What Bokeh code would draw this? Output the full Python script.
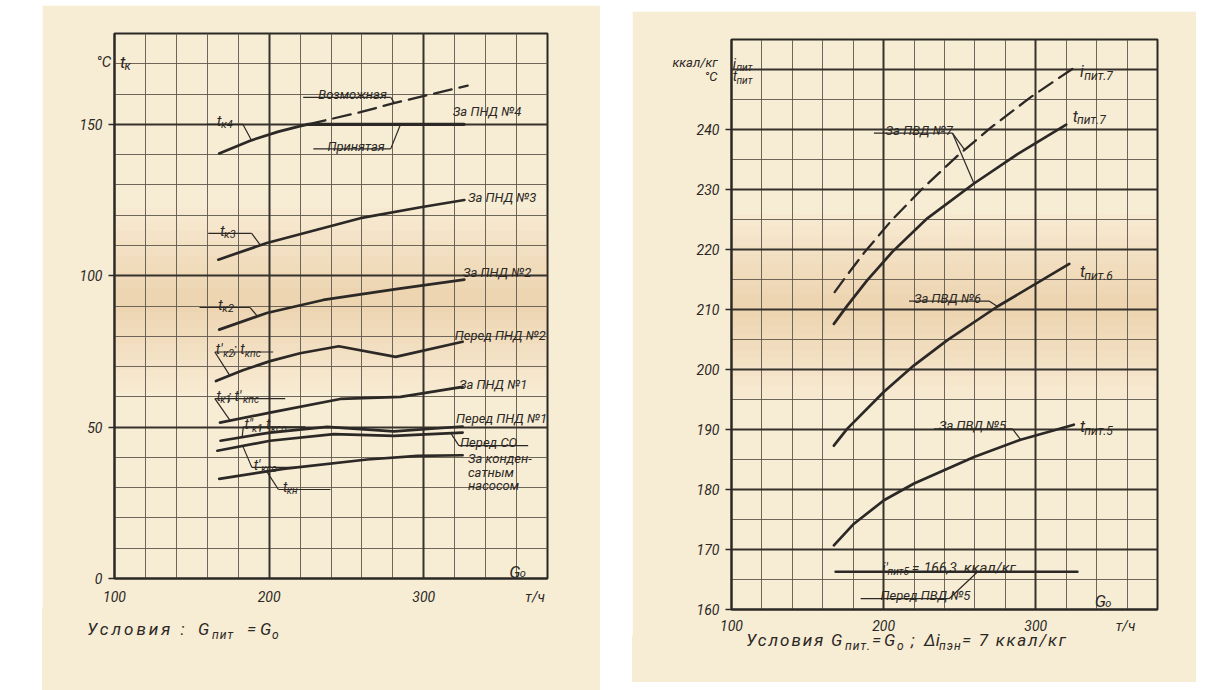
from bokeh.plotting import figure
from bokeh.models import Range1d, FixedTicker, Grid, Label, Spacer, Div, BoxAnnotation
from bokeh.layouts import row, column
from bokeh.embed import file_html
from bokeh.resources import INLINE

# ---------------- data: left panel (condensate temperature t_k, °C, vs G0, t/h)
G_k4 = [167.7, 187.7, 206.0, 220.0, 225.0]
t_k4 = [140.4, 144.6, 147.6, 149.4, 150.0]
G_k4_acc = [225.0, 326.0]
t_k4_acc = [150.0, 150.0]
G_k4_pos = [225.0, 259.0, 280.7, 328.4]
t_k4_pos = [150.0, 154.0, 157.0, 162.8]
G_k3 = [167.1, 198.5, 259.0, 298.0, 326.2]
t_k3 = [105.3, 110.8, 119.0, 122.6, 125.0]
G_k2 = [167.7, 198.5, 235.0, 282.0, 326.2]
t_k2 = [82.2, 87.7, 92.0, 95.6, 98.7]
G_pnd2 = [165.6, 183.0, 200.6, 220.0, 245.0, 281.8, 325.1]
t_pnd2 = [65.2, 68.8, 71.8, 74.4, 76.7, 73.2, 78.2]
G_k1 = [168.2, 200.6, 246.0, 285.0, 325.1]
t_k1 = [51.5, 54.8, 59.3, 60.0, 63.3]
G_pnd1 = [168.6, 200.6, 237.5, 280.7, 325.1]
t_pnd1 = [45.5, 48.2, 50.1, 48.6, 50.2]
G_co = [166.5, 200.6, 241.8, 280.7, 325.1]
t_co = [42.2, 45.5, 47.7, 47.1, 48.2]
G_kn = [167.7, 209.3, 263.4, 296.0, 325.1]
t_kn = [32.9, 36.2, 39.3, 40.5, 40.7]
left_yticks = [0, 50, 100, 150]
left_xticks = [100, 200, 300, 372]
left_xlabels = {372: "т/ч"}

# ---------------- data: right panel (feed water i, kcal/kg and t, °C)
G_i7 = [167.8, 175.0, 187.0, 205.7, 226.5, 248.5, 270.4, 296.7, 327.5]
i_7 = [212.9, 215.4, 219.4, 225.0, 230.4, 235.6, 240.3, 245.4, 250.7]
G_t7 = [167.3, 176.0, 189.0, 205.7, 228.7, 259.4, 288.0, 320.0]
t_7 = [207.6, 210.6, 214.8, 219.6, 225.2, 231.0, 235.9, 240.8]
G_t6 = [167.3, 176.0, 200.2, 220.0, 241.9, 274.8, 322.0]
t_6 = [187.3, 190.1, 196.3, 200.7, 204.9, 210.5, 217.6]
G_t5 = [167.3, 180.5, 200.2, 220.0, 259.4, 290.0, 325.0]
t_5 = [170.7, 174.3, 178.2, 181.0, 185.4, 188.3, 190.8]
G_i5 = [168.4, 327.4]
i_5 = [166.3, 166.3]
right_yticks = [160, 170, 180, 190, 200, 210, 220, 230, 240]
right_xticks = [100, 200, 300, 359]
right_xlabels = {359: "т/ч"}

FONT = "Roboto"
INK = "#2b2825"
PAPER = "#f7ecd4"
TINT = "#efb07f"
GRID_THIN = "#5f584e"
GRID_THICK = "#36322d"


def est_w(s, fs):
    w = 0.0
    for ch in s:
        if ch == " ":
            w += 0.25
        elif ch in "itlfj.,;:′″'1|":
            w += 0.27
        elif ch in "ШЩЖМмшщжю№":
            w += 0.8
        elif ch.isupper():
            w += 0.62
        else:
            w += 0.52
    return w * fs


def mklabel(x, y, txt, fs, dx=0.0, dy=0.0, align="left"):
    return Label(x=x, y=y, x_offset=dx, y_offset=dy, text=txt, text_font=FONT,
                 text_font_size=f"{fs}px", text_font_style="italic",
                 text_color=INK, text_baseline="alphabetic", text_align=align)


def rich(p, x, y, segs, size=14, sub=10, align="left", subdy=-4):
    total = sum(est_w(t, sub if s else size) for t, s in segs)
    off = 0.0
    if align == "right":
        off = -total
    elif align == "center":
        off = -total / 2
    for txt, is_sub in segs:
        fs = sub if is_sub else size
        p.add_layout(mklabel(x, y, txt, fs, dx=off, dy=(subdy if is_sub else 0)))
        off += est_w(txt, fs)


def make_fig(w, h, xr, yr, xticks, xlabels, yticks, ygrid_thin, ygrid_thick, mb, xstand):
    p = figure(width=w, height=h, x_range=Range1d(*xr), y_range=Range1d(*yr),
               output_backend="svg", toolbar_location=None, title=None,
               min_border_left=mb[0], min_border_right=mb[1],
               min_border_top=mb[2], min_border_bottom=mb[3],
               background_fill_color=PAPER, border_fill_color=PAPER)
    p.outline_line_color = INK
    p.outline_line_width = 2
    p.xgrid.ticker = FixedTicker(ticks=list(range(100, 381, 20)))
    p.ygrid.ticker = FixedTicker(ticks=ygrid_thin)
    for g in (p.xgrid, p.ygrid):
        g.grid_line_color = GRID_THIN
        g.grid_line_width = 1
        g.grid_line_alpha = 0.9
    p.add_layout(Grid(dimension=0, ticker=FixedTicker(ticks=[200, 300]),
                      grid_line_color=GRID_THICK, grid_line_width=2))
    p.add_layout(Grid(dimension=1, ticker=FixedTicker(ticks=ygrid_thick),
                      grid_line_color=GRID_THICK, grid_line_width=2))
    p.xaxis.ticker = FixedTicker(ticks=xticks)
    p.xaxis.major_label_overrides = xlabels
    p.yaxis.ticker = FixedTicker(ticks=yticks)
    for ax in (p.xaxis, p.yaxis):
        ax.axis_line_color = INK
        ax.axis_line_width = 2
        ax.major_tick_line_color = INK
        ax.major_tick_line_width = 1.5
        ax.major_tick_in = 0
        ax.minor_tick_line_color = None
        ax.major_label_text_font = FONT
        ax.major_label_text_font_style = "italic"
        ax.major_label_text_font_size = "14px"
        ax.major_label_text_color = INK
    p.xaxis.major_tick_out = 0
    p.yaxis.major_tick_out = 6
    p.xaxis.major_label_standoff = xstand
    p.yaxis.major_label_standoff = 6
    return p


def tint(p, mid, half_steps):
    # soft peach band of the scanned paper, built from nested translucent boxes
    for h in half_steps:
        p.add_layout(BoxAnnotation(left=100, right=380, bottom=mid - h, top=mid + h,
                                   fill_color=TINT, fill_alpha=0.035,
                                   line_color=None, level="image"))


def curve(p, xs, ys, dash="solid", width=2.7):
    p.line(xs, ys, line_color=INK, line_width=width, line_dash=dash,
           line_cap="round", line_join="round")


def callout(p, segs_xy):
    for x0, y0, x1, y1 in segs_xy:
        p.line([x0, x1], [y0, y1], line_color=INK, line_width=1.2)


TOP, BOT = 28, 27
STEPS_PX = [12, 20, 28, 36, 44, 52, 60, 70, 80, 92]

# ================= left panel
L = make_fig(558, TOP + 547 + BOT, (100, 380), (0, 180), left_xticks, left_xlabels,
             left_yticks, list(range(0, 181, 10)), [50, 100, 150], (72, 53, TOP, BOT), 10)
tint(L, 92.0, [s / 3.04 for s in STEPS_PX])

curve(L, G_k4, t_k4)
curve(L, G_k4_acc, t_k4_acc, width=3.3)
curve(L, G_k4_pos, t_k4_pos, dash="18 8", width=2.3)
curve(L, G_k3, t_k3)
curve(L, G_k2, t_k2)
curve(L, G_pnd2, t_pnd2)
curve(L, G_k1, t_k1)
curve(L, G_pnd1, t_pnd1)
curve(L, G_co, t_co)
curve(L, G_kn, t_kn)

# callouts: underline + leader (annotation geometry)
callout(L, [
    (159.7, 150.0, 183.0, 150.0), (183.0, 150.0, 188.8, 144.5),
    (160.6, 114.0, 188.7, 114.0), (188.7, 114.0, 194.2, 110.2),
    (155.0, 89.5, 187.7, 89.5), (187.7, 89.5, 192.5, 86.6),
    (164.9, 74.8, 202.6, 74.8), (164.9, 74.8, 174.7, 66.9),
    (164.9, 59.4, 210.4, 59.4), (164.9, 59.4, 174.7, 52.2),
    (183.3, 50.1, 223.4, 50.1), (183.3, 50.1, 182.5, 46.6),
    (188.8, 36.7, 220.0, 36.7), (188.8, 36.7, 182.9, 43.8),
    (206.0, 29.4, 239.6, 29.4), (206.0, 29.4, 198.5, 35.3),
    (222.0, 158.9, 278.6, 158.9), (278.6, 158.9, 281.0, 157.1),
    (228.6, 141.9, 278.6, 141.9), (278.6, 141.9, 285.0, 150.0),
    (322.7, 43.9, 367.5, 43.9), (322.7, 43.9, 317.5, 48.0),
])

rich(L, 166.2, 151.2, [("t", 0), ("к4", 1)], size=15, sub=11)
rich(L, 168.2, 114.9, [("t", 0), ("к3", 1)], size=15, sub=11)
rich(L, 167.0, 90.4, [("t", 0), ("к2", 1)], size=15, sub=11)
rich(L, 165.5, 75.7, [("t′", 0), ("к2", 1), ("; t", 0), ("кпс", 1)])
rich(L, 166.0, 60.3, [("t", 0), ("к1", 1), ("; t′", 0), ("кпс", 1)])
rich(L, 184.0, 51.0, [("t″", 0), ("к1", 1), (", t", 0), ("ксо", 1)])
rich(L, 190.0, 37.6, [("t′", 0), ("ксо", 1)])
rich(L, 209.0, 30.3, [("t", 0), ("кн", 1)])
rich(L, 231.8, 159.8, [("Возможная", 0)], size=13)
rich(L, 237.7, 142.8, [("Принятая", 0)], size=13)
rich(L, 318.8, 154.3, [("За ПНД №4", 0)], size=13)
rich(L, 328.6, 126.0, [("За ПНД №3", 0)], size=13)
rich(L, 325.3, 101.0, [("За ПНД №2", 0)], size=13)
rich(L, 320.0, 80.4, [("Перед ПНД №2", 0)], size=13)
rich(L, 322.7, 64.2, [("За ПНД №1", 0)], size=13)
rich(L, 320.8, 53.0, [("Перед ПНД №1", 0)], size=13)
rich(L, 323.5, 44.8, [("Перед СО", 0)], size=13)
rich(L, 328.6, 39.5, [("За конден-", 0)], size=13)
rich(L, 328.6, 34.9, [("сатным", 0)], size=13)
rich(L, 328.6, 30.6, [("насосом", 0)], size=13)
rich(L, 103.5, 170.7, [("t", 0), ("к", 1)], size=17, sub=12)
rich(L, 355.2, 2.3, [("G", 0), ("о", 1)], size=17, sub=11, subdy=-2)
# outside the frame: in a side panel so that it is not clipped
L.add_layout(mklabel(97.8, 170.7, "°C", 15, align="right"), "above")

# ================= right panel
R = make_fig(564, TOP + 570 + BOT, (100, 380), (160, 255), right_xticks, right_xlabels,
             right_yticks, list(range(160, 256, 5)), list(range(160, 251, 10)),
             (99, 39, TOP, BOT), 8)
tint(R, 210.5, [s / 6.0 for s in STEPS_PX])

curve(R, G_i7, i_7, dash="16 8", width=2.3)
curve(R, G_t7, t_7)
curve(R, G_t6, t_6)
curve(R, G_t5, t_5)
curve(R, G_i5, i_5, width=2.4)

callout(R, [
    (193.6, 239.4, 245.2, 239.4), (245.2, 239.4, 253.3, 236.6), (245.2, 239.4, 259.4, 231.0),
    (216.7, 211.4, 269.3, 211.4), (269.3, 211.4, 274.8, 210.5),
    (233.1, 190.1, 284.7, 190.1), (284.7, 190.1, 290.0, 188.3),
    (184.9, 161.8, 243.0, 161.8), (243.0, 161.8, 261.8, 166.3),
])

rich(R, 100.8, 251.0, [("i", 0), ("пит", 1)], size=14, sub=10)
rich(R, 100.8, 248.9, [("t", 0), ("пит", 1)], size=14, sub=10)
rich(R, 329.0, 249.6, [("i", 0), ("пит.7", 1)], size=16, sub=12)
rich(R, 324.3, 242.2, [("t", 0), ("пит.7", 1)], size=16, sub=12)
rich(R, 329.0, 216.3, [("t", 0), ("пит.6", 1)], size=16, sub=12)
rich(R, 329.0, 190.5, [("t", 0), ("пит.5", 1)], size=16, sub=12)
rich(R, 201.3, 239.9, [("За ПВД №7", 0)], size=13)
rich(R, 219.9, 211.9, [("За  ПВД №6", 0)], size=13)
rich(R, 236.4, 190.6, [("За  ПВД №5", 0)], size=13)
rich(R, 198.0, 162.3, [("Перед  ПВД №5", 0)], size=13)
rich(R, 199.1, 167.0, [("i′", 0)], size=14)
rich(R, 202.6, 167.0, [("пит5", 1)], size=14, sub=10)
rich(R, 218.5, 167.0, [("=", 0)], size=14)
rich(R, 226.3, 167.0, [("166,3", 0)], size=14)
rich(R, 252.6, 167.0, [("ккал/кг", 0)], size=15)
rich(R, 338.8, 161.4, [("G", 0), ("о", 1)], size=17, sub=11, subdy=-2)
R.add_layout(mklabel(90.8, 251.2, "ккал/кг", 13, align="right"), "left")
R.add_layout(mklabel(90.8, 248.9, "°C", 13, align="right"), "above")

# ---- footnotes under the panels (HTML, with real subscripts)
BASE = "position:absolute; font-family:Roboto; font-style:italic; color:%s; white-space:nowrap;" % INK


def piece(x, top, txt, fs=17, ls=0.0):
    return ('<span style="%s left:%dpx; top:%dpx; font-size:%dpx; line-height:%dpx; '
            'letter-spacing:%.1fpx;">%s</span>') % (BASE, x, top, fs, fs, ls, txt)


def foot(pieces, w, h):
    html = '<div style="position:relative; width:%dpx; height:%dpx;">%s</div>' % (w, h, "".join(pieces))
    return Div(text=html, width=w, height=h,
               styles={"background-color": PAPER, "overflow": "visible", "margin": "0"})


hL = 690 - 5 - (TOP + 547 + BOT)
div_L = foot([piece(45, 14, "Условия :", 17, 3.0),
              piece(156, 14, "G"), piece(170, 22, "пит", 12, 1.0),
              piece(205, 14, "="), piece(218, 14, "G"), piece(230, 22, "о", 12)],
             558, hL)
hR = 682 - 11 - (TOP + 570 + BOT)
div_R = foot([piece(114, -4, "Условия", 17, 2.0),
              piece(199, -4, "G"), piece(213, 4, "пит.", 12, 1.0),
              piece(240, -4, "="), piece(252, -4, "G"), piece(265, 4, "о", 12),
              piece(279, -4, ";"),
              piece(292, -4, "Δi"), piece(307, 4, "пэн", 12, 1.0),
              piece(330, -4, "= 7 ккал/кг", 17, 1.8)],
             564, hR)

layout = column(
    Spacer(height=5),
    row(Spacer(width=42), column(L, div_L), Spacer(width=32),
        column(Spacer(height=6), R, div_R)),
)
open("out.html", "w").write(file_html(layout, INLINE))
